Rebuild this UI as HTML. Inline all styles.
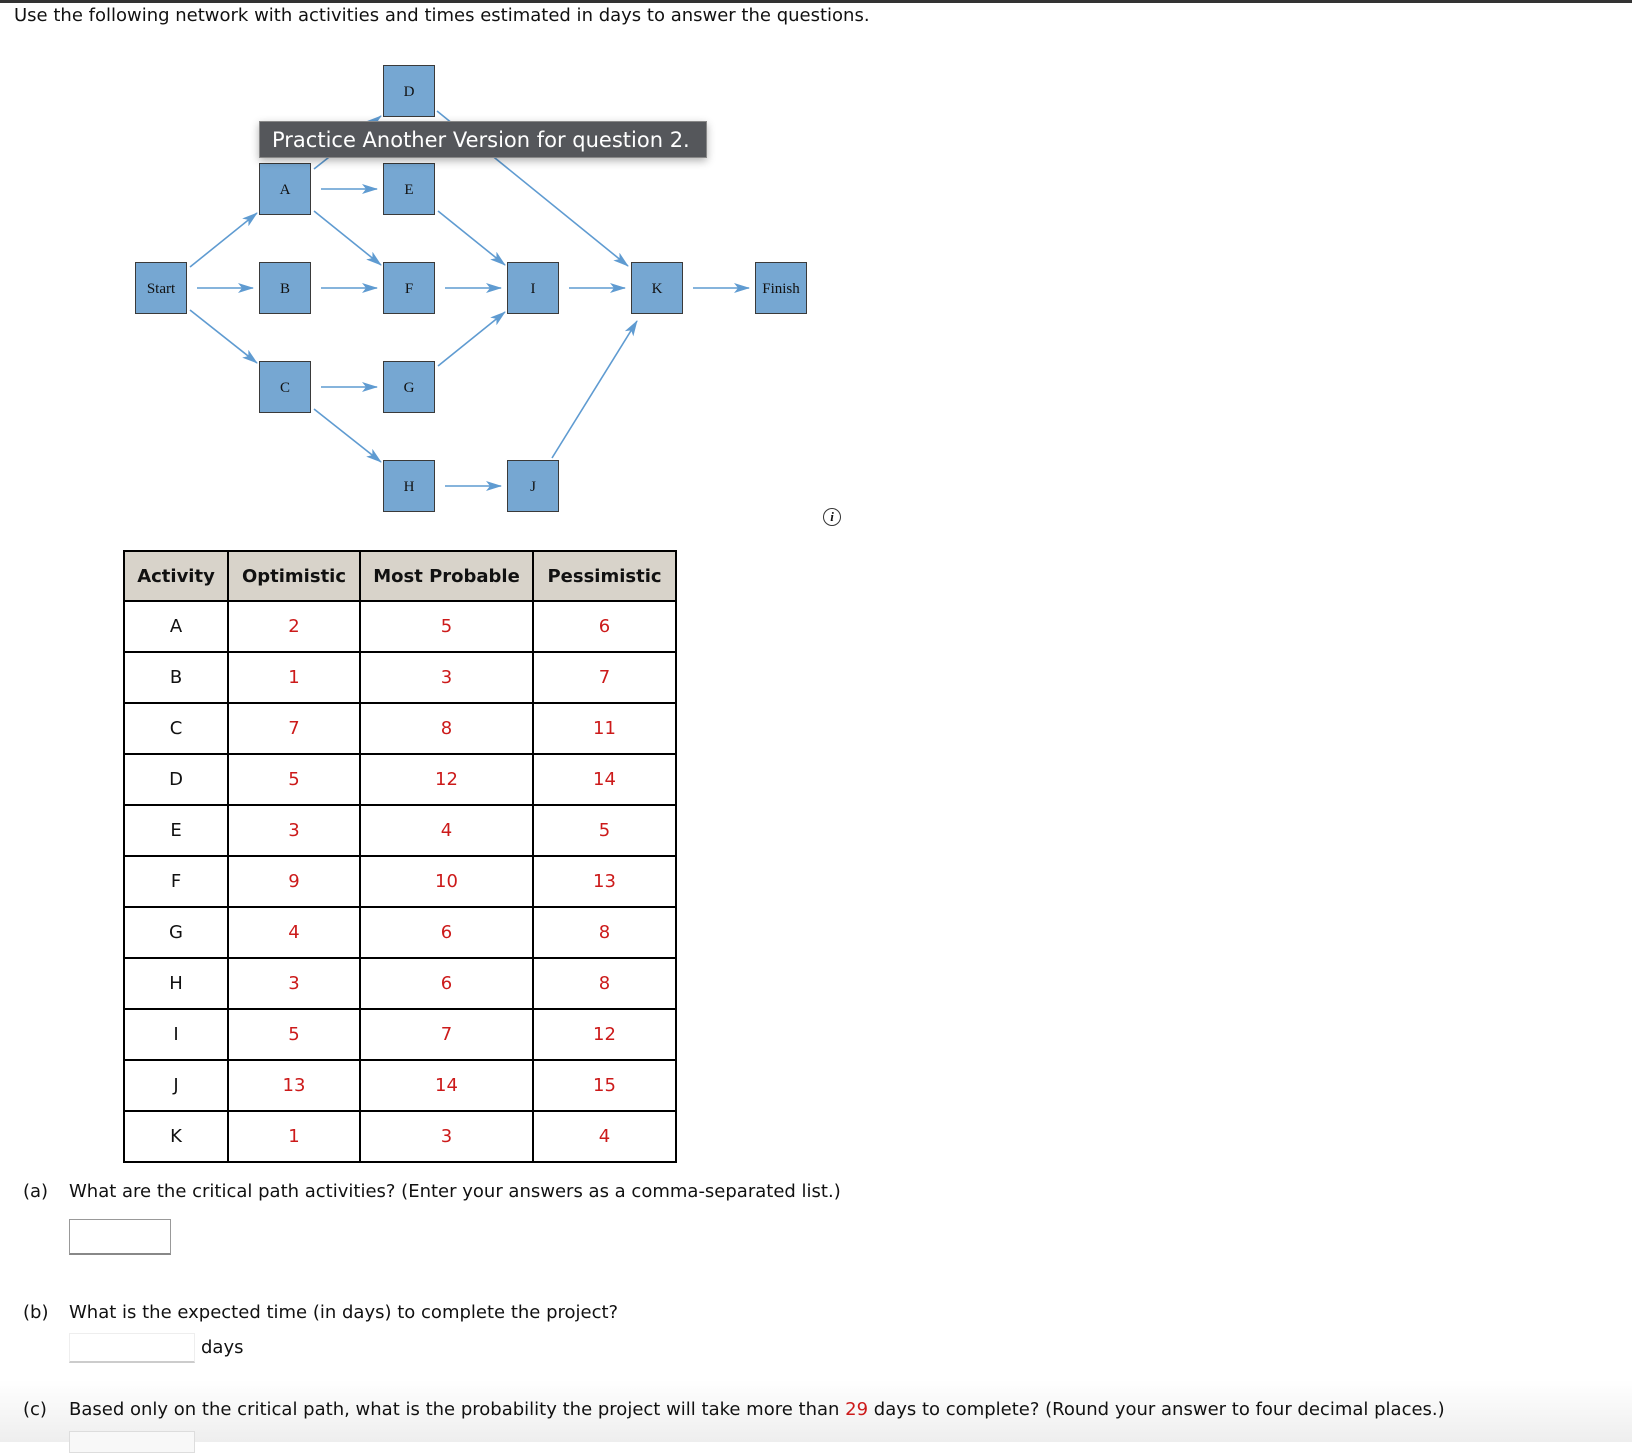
<!DOCTYPE html>
<html><head><meta charset="utf-8"><style>
html,body{margin:0;padding:0;background:#fff;}
body{width:1632px;height:1442px;position:relative;overflow:hidden;font-family:"DejaVu Sans","Liberation Sans",sans-serif;color:#111;}
.t{position:absolute;font-size:18px;white-space:nowrap;}
.n{position:absolute;width:50px;height:50px;background:#76a7d2;border:1px solid #3a3a3a;font-family:"Liberation Serif",serif;font-size:15px;display:flex;align-items:center;justify-content:center;color:#111;padding-top:3px;box-sizing:content-box;height:47px;}
table{position:absolute;left:123px;top:550px;border-collapse:collapse;}
td,th{border:2px solid #000;text-align:center;font-size:18px;padding:0;height:49px;}
th{background:#d8d3ca;font-weight:bold;height:48px;}
td.r{color:#cc1a1a;}
</style></head><body>
<div style="position:absolute;left:0;top:0;width:1632px;height:3px;background:#333;"></div>
<div class="t" style="left:14px;top:5px;">Use the following network with activities and times estimated in days to answer the questions.</div>

<svg style="position:absolute;left:0;top:0" width="900" height="540">
<defs><marker id="ah" markerWidth="16" markerHeight="10" refX="15" refY="5" orient="auto" markerUnits="userSpaceOnUse"><path d="M0,0 L16,5 L0,10 L4,5 z" fill="#5f9bd1"/></marker></defs>
<g stroke="#5f9bd1" stroke-width="1.6" fill="none" marker-end="url(#ah)">
<line x1="197" y1="288" x2="253" y2="288"/>
<line x1="321" y1="288" x2="377" y2="288"/>
<line x1="445" y1="288" x2="501" y2="288"/>
<line x1="569" y1="288" x2="625" y2="288"/>
<line x1="693" y1="288" x2="749" y2="288"/>
<line x1="321" y1="189" x2="377" y2="189"/>
<line x1="321" y1="387" x2="377" y2="387"/>
<line x1="445" y1="486" x2="501" y2="486"/>
<line x1="190" y1="267" x2="257" y2="213"/>
<line x1="190" y1="310" x2="257" y2="363"/>
<line x1="314" y1="169" x2="381" y2="116"/>
<line x1="314" y1="211" x2="381" y2="265"/>
<line x1="314" y1="409" x2="381" y2="462"/>
<line x1="438" y1="211" x2="505" y2="265"/>
<line x1="438" y1="366" x2="505" y2="312"/>
<line x1="437" y1="111" x2="628" y2="266"/>
<line x1="552" y1="458" x2="637" y2="321"/>
</g>
</svg>
<div class="n" style="left:135px;top:262px;">Start</div>
<div class="n" style="left:259px;top:163px;">A</div>
<div class="n" style="left:259px;top:262px;">B</div>
<div class="n" style="left:259px;top:361px;">C</div>
<div class="n" style="left:383px;top:65px;">D</div>
<div class="n" style="left:383px;top:163px;">E</div>
<div class="n" style="left:383px;top:262px;">F</div>
<div class="n" style="left:383px;top:361px;">G</div>
<div class="n" style="left:383px;top:460px;">H</div>
<div class="n" style="left:507px;top:262px;">I</div>
<div class="n" style="left:507px;top:460px;">J</div>
<div class="n" style="left:631px;top:262px;">K</div>
<div class="n" style="left:755px;top:262px;">Finish</div>

<div style="position:absolute;left:259px;top:121px;width:448px;height:37px;background:#55575b;border:1px solid #888;box-shadow:0 3px 8px rgba(0,0,0,0.3);color:#fff;font-family:'DejaVu Sans','Liberation Sans',sans-serif;font-size:21px;line-height:37px;padding-left:12px;box-sizing:border-box;white-space:nowrap;">Practice Another Version for question 2.</div>

<div style="position:absolute;left:823px;top:508px;width:16px;height:16px;border:1.5px solid #333;border-radius:50%;font-family:'Liberation Serif',serif;font-style:italic;font-weight:bold;font-size:13px;line-height:16px;text-align:center;">i</div>

<table>
<tr><th style="width:102px">Activity</th><th style="width:130px">Optimistic</th><th style="width:171px">Most Probable</th><th style="width:141px">Pessimistic</th></tr>
<tr><td>A</td><td class="r">2</td><td class="r">5</td><td class="r">6</td></tr>
<tr><td>B</td><td class="r">1</td><td class="r">3</td><td class="r">7</td></tr>
<tr><td>C</td><td class="r">7</td><td class="r">8</td><td class="r">11</td></tr>
<tr><td>D</td><td class="r">5</td><td class="r">12</td><td class="r">14</td></tr>
<tr><td>E</td><td class="r">3</td><td class="r">4</td><td class="r">5</td></tr>
<tr><td>F</td><td class="r">9</td><td class="r">10</td><td class="r">13</td></tr>
<tr><td>G</td><td class="r">4</td><td class="r">6</td><td class="r">8</td></tr>
<tr><td>H</td><td class="r">3</td><td class="r">6</td><td class="r">8</td></tr>
<tr><td>I</td><td class="r">5</td><td class="r">7</td><td class="r">12</td></tr>
<tr><td>J</td><td class="r">13</td><td class="r">14</td><td class="r">15</td></tr>
<tr><td>K</td><td class="r">1</td><td class="r">3</td><td class="r">4</td></tr>
</table>

<div class="t" style="left:23px;top:1181px;">(a)</div>
<div class="t" style="left:69px;top:1181px;">What are the critical path activities? (Enter your answers as a comma-separated list.)</div>
<div style="position:absolute;left:69px;top:1219px;width:100px;height:33px;border:1px solid #999;border-bottom:2px solid #888;"></div>

<div class="t" style="left:23px;top:1302px;">(b)</div>
<div class="t" style="left:69px;top:1302px;">What is the expected time (in days) to complete the project?</div>
<div style="position:absolute;left:69px;top:1333px;width:124px;height:27px;border:1px solid #eee;border-bottom:2px solid #ccc;"></div>
<div class="t" style="left:201px;top:1337px;">days</div>

<div style="position:absolute;left:0;top:1380px;width:1632px;height:62px;background:linear-gradient(#fff,#eee);"></div>
<div class="t" style="left:23px;top:1399px;">(c)</div>
<div class="t" style="left:69px;top:1399px;">Based only on the critical path, what is the probability the project will take more than <span style="color:#cc1a1a">29</span> days to complete? (Round your answer to four decimal places.)</div>
<div style="position:absolute;left:69px;top:1431px;width:124px;height:20px;border:1px solid #ddd;background:#f8f8f8;"></div>
</body></html>
